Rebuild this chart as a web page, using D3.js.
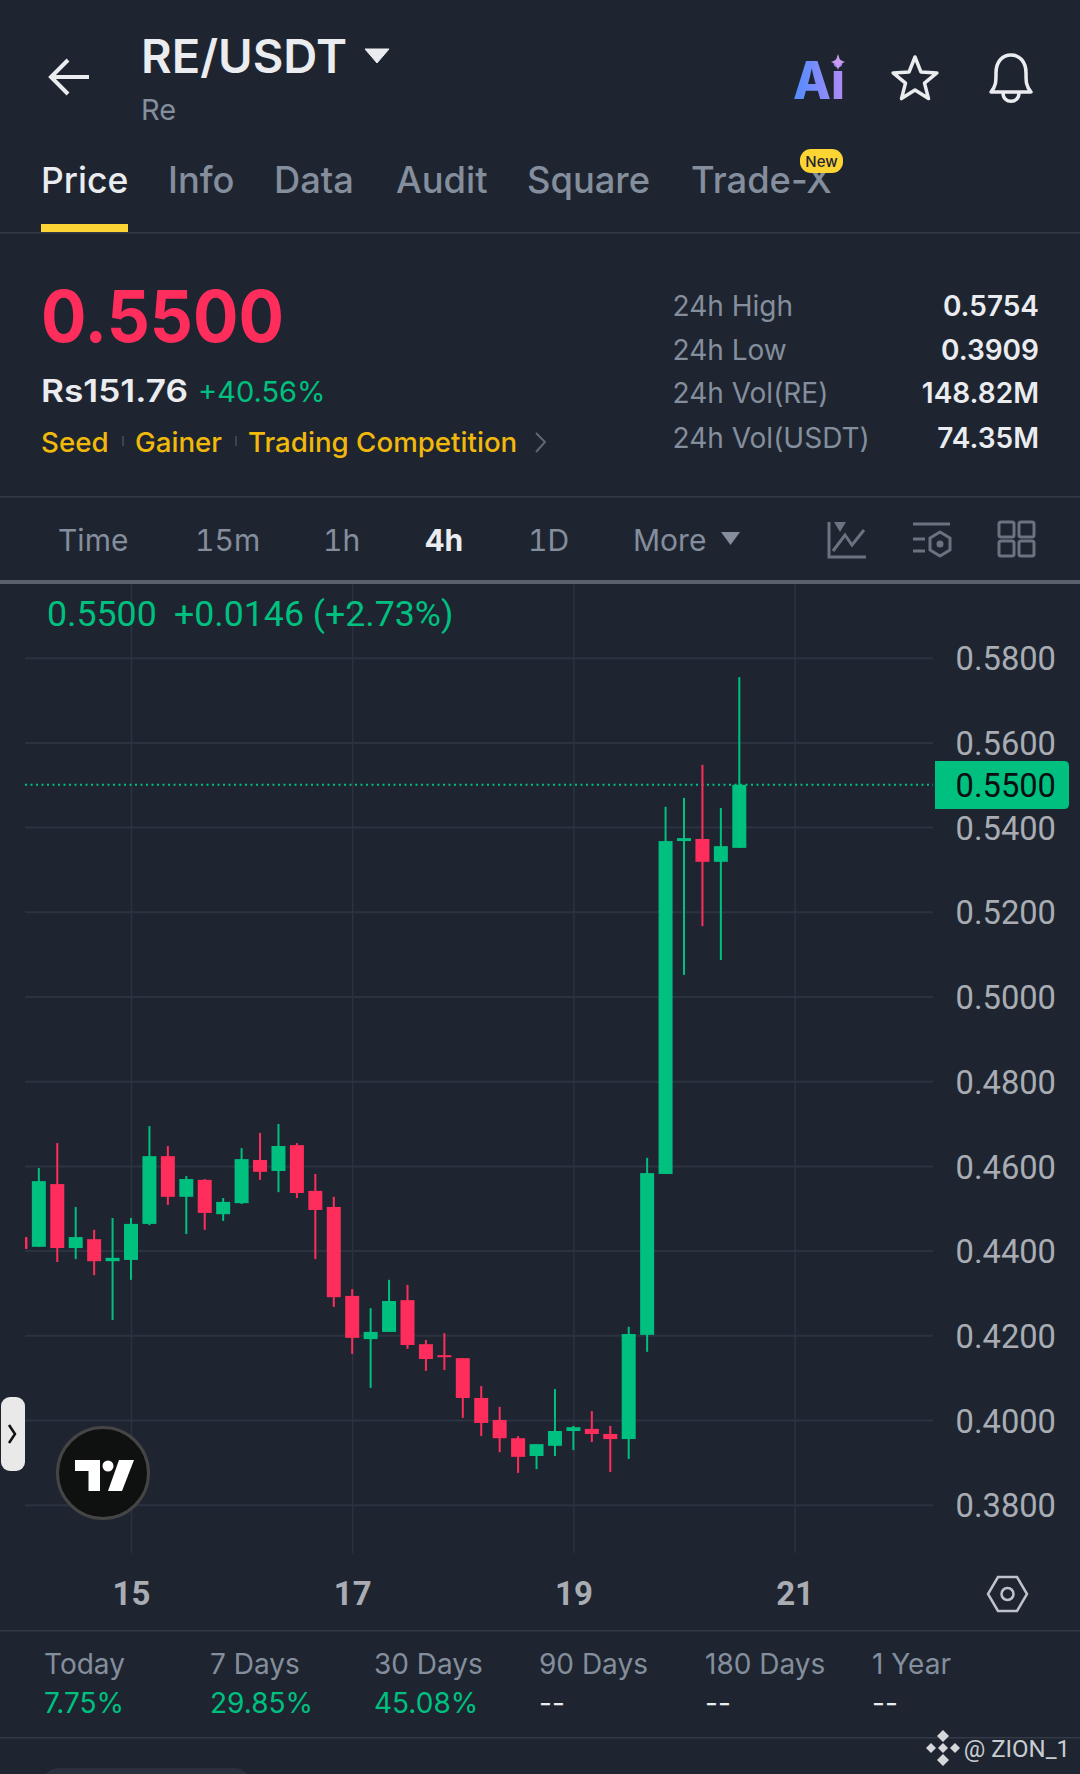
<!DOCTYPE html>
<html>
<head>
<meta charset="utf-8">
<script src="https://cdn.jsdelivr.net/npm/d3@7"></script>
<style>
html, body { margin: 0; padding: 0; background: #1e2531; }
svg { display: block; }
text { font-family: Inter, "Noto Sans", sans-serif; }
.axis text { font-family: Roboto, sans-serif; }
.axis .domain { display: none; }
</style>
</head>
<body>
<script>
var w = 1080;
var h = 1774;

// 4h candles, first one opens on day 14 00:00
var firstDay = 14;
var opens  = [.4432,.4409,.4557,.4406,.4427,.4375,.4378,.4463,.4623,.4527,.4567,.4486,.4512,.4614,.4588,.4649,.4541,.4503,.4293,.4191,.4208,.4283,.4179,.4153,.4146,.4052,.4000,.3957,.3915,.3939,.3974,.3979,.3967,.3955,.4201,.4581,.5367,.5372,.5318,.5351];
var closes = [.4404,.4564,.4406,.4432,.4375,.4383,.4463,.4623,.4527,.4569,.4489,.4515,.4616,.4586,.4647,.4536,.4496,.4290,.4194,.4208,.4281,.4177,.4144,.4149,.4052,.3993,.3957,.3913,.3943,.3974,.3983,.3967,.3955,.4203,.4583,.5367,.5374,.5318,.5355,.5500];
var highs  = [.4432,.4595,.4654,.4503,.4449,.4477,.4477,.4694,.4647,.4576,.4569,.4524,.4642,.4678,.4699,.4654,.4581,.4527,.4309,.4264,.4331,.4319,.4189,.4205,.4146,.4080,.4031,.3962,.3943,.4073,.3986,.4021,.3986,.4220,.4619,.5448,.5469,.5547,.5445,.5754];
var lows   = [.4404,.4409,.4373,.4380,.4342,.4236,.4331,.4460,.4508,.4439,.4449,.4470,.4510,.4567,.4538,.4524,.4380,.4267,.4156,.4076,.4208,.4168,.4116,.4118,.4005,.3962,.3924,.3875,.3884,.3915,.3929,.3948,.3877,.3908,.4161,.4581,.5051,.5166,.5086,.5351];

var priceTicks = [.58,.56,.54,.52,.50,.48,.46,.44,.42,.40,.38];
var dayTicks = [15,17,19,21];
var lastPrice = 0.55;

var tabNames = ["Price","Info","Data","Audit","Square","Trade-X"];
var intervalNames = ["Time","15m","1h","4h","1D","More"];
var tagNames = ["Seed","Gainer","Trading Competition"];
var statLabels = ["24h High","24h Low","24h Vol(RE)","24h Vol(USDT)"];
var statValues = ["0.5754","0.3909","148.82M","74.35M"];
var perfLabels = ["Today","7 Days","30 Days","90 Days","180 Days","1 Year"];
var perfValues = ["7.75%","29.85%","45.08%","--","--","--"];

var green = "#00c07f";
var red = "#ff2d5c";
var greyText = "#848e9c";
var line = "#333a47";
var gridCol = "#2c3340";

var svg = d3.select("body").append("svg")
  .attr("width", w)
  .attr("height", h);

svg.append("rect").attr("width", w).attr("height", h).attr("fill", "#1e2531");

function label(s, x, y, size, fill, weight, anchor) {
  return svg.append("text")
    .text(s)
    .attr("x", x)
    .attr("y", y)
    .attr("font-size", size)
    .attr("fill", fill)
    .attr("font-weight", weight || 400)
    .attr("text-anchor", anchor || "start");
}

function hline(y, col, sw) {
  svg.append("rect").attr("x", 0).attr("y", y).attr("width", w).attr("height", sw || 1.5).attr("fill", col || line);
}

// header
svg.append("path")
  .attr("d", "M89 77H52M68 60L51 77L68 94")
  .attr("fill", "none").attr("stroke", "#eaecef").attr("stroke-width", 4);
label("RE/USDT", 141, 73, 46, "#eaecef", 600).attr("textLength", 206).attr("lengthAdjust", "spacingAndGlyphs");
svg.append("path").attr("d", "M365 49H389L377 63Z").attr("fill", "#eaecef").attr("stroke", "#eaecef").attr("stroke-width", 1).attr("stroke-linejoin", "round");
label("Re", 141, 120, 29, greyText);

var aiGrad = svg.append("defs").append("linearGradient").attr("id", "aiGrad").attr("x1", 0).attr("x2", 1).attr("y1", 0).attr("y2", 0);
aiGrad.append("stop").attr("offset", "0%").attr("stop-color", "#4f8cff");
aiGrad.append("stop").attr("offset", "100%").attr("stop-color", "#b08bf5");
label("Ai", 793, 99, 52, "url(#aiGrad)", 800).attr("textLength", 52).attr("lengthAdjust", "spacingAndGlyphs");
svg.append("path").attr("d", "M838 54L840 60L845 62L840 64L838 70L836 64L831 62L836 60Z").attr("fill", "#c99cf2");
svg.append("path")
  .attr("d", d3.range(10).map(function(i) {
    var r = i % 2 ? 10 : 23;
    var a = -Math.PI / 2 + i * Math.PI / 5;
    return (i ? "L" : "M") + (915 + r * Math.cos(a)).toFixed(1) + " " + (80 + r * Math.sin(a)).toFixed(1);
  }).join("") + "Z")
  .attr("fill", "none").attr("stroke", "#eaecef").attr("stroke-width", 3.5).attr("stroke-linejoin", "round");
svg.append("path")
  .attr("d", "M991 92C996 86 996 82 996 73C996 61 1003 55 1011 55C1019 55 1026 61 1026 73C1026 82 1026 86 1031 92Z M1003 93C1003 104 1019 104 1019 93")
  .attr("fill", "none").attr("stroke", "#eaecef").attr("stroke-width", 3.5).attr("stroke-linejoin", "round");

// tabs
var tabX = [41, 168, 274, 396, 527, 691];
tabNames.forEach(function(d, i) {
  label(d, tabX[i], 193, i == 0 ? 35.5 : 36.3, i == 0 ? "#eaecef" : greyText, 500);
});
svg.append("rect").attr("x", 800).attr("y", 149).attr("width", 43).attr("height", 24).attr("rx", 11).attr("fill", "#fcd535");
label("New", 821.5, 167, 15, "#1e2531", 500, "middle");
svg.append("rect").attr("x", 41).attr("y", 224).attr("width", 87).attr("height", 8).attr("fill", "#fcd535");
hline(232);

// price block
label("0.5500", 41, 342, 72, red, 700).attr("textLength", 243).attr("lengthAdjust", "spacingAndGlyphs");
label("Rs151.76", 41, 402, 31, "#eaecef", 600).attr("textLength", 147).attr("lengthAdjust", "spacingAndGlyphs");
label("+40.56%", 198, 402, 29, green, 400);
var tagX = [41, 135, 248];
tagNames.forEach(function(d, i) {
  label(d, tagX[i], 452, 27.7, "#f0b90b", 500);
});
[122, 235].forEach(function(x) {
  svg.append("rect").attr("x", x).attr("y", 436).attr("width", 2).attr("height", 10).attr("fill", "#3d4451");
});
svg.append("path").attr("d", "M536 433L545 442L536 452").attr("fill", "none").attr("stroke", "#5e6673").attr("stroke-width", 2);

var statY = [316, 360, 403, 448];
statLabels.forEach(function(d, i) {
  label(d, 672.5, statY[i], 28, greyText);
  label(statValues[i], 1039, statY[i], 28, "#eaecef", 600, "end");
});
hline(496);

// interval bar
var intX = [58, 195, 323, 425, 528, 633];
intervalNames.forEach(function(d, i) {
  label(d, intX[i], 551, 30, i == 3 ? "#eaecef" : greyText, i == 3 ? 700 : 400)
    .style("font-variant-numeric", "tabular-nums");
});
svg.append("path").attr("d", "M721 532H740L730.5 545Z").attr("fill", greyText);
svg.append("path")
  .attr("d", "M829 522V557H866M833 551L845 535L852 545L864 530")
  .attr("fill", "none").attr("stroke", "#6b7280").attr("stroke-width", 3);
svg.append("path").attr("d", "M834 522H846L840 532Z").attr("fill", "#6b7280");
svg.append("path")
  .attr("d", "M913 524H950M913 539H925M913 551H925M940 532L950 538V550L940 556L930 550V538Z")
  .attr("fill", "none").attr("stroke", "#6b7280").attr("stroke-width", 3);
svg.append("circle").attr("cx", 940).attr("cy", 544).attr("r", 3.5).attr("fill", "#6b7280");
[[999, 522], [1019, 522], [999, 541], [1019, 541]].forEach(function(p) {
  svg.append("rect").attr("x", p[0]).attr("y", p[1]).attr("width", 15).attr("height", 15).attr("rx", 2)
    .attr("fill", "none").attr("stroke", "#6b7280").attr("stroke-width", 3);
});

// chart
var x = d3.scaleLinear().domain([15, 21]).range([131, 794.6]);
var y = d3.scaleLinear().domain([0.38, 0.58]).range([1504.7, 657.7]);

var xAxis = d3.axisBottom(x).tickValues(dayTicks).tickSize(-971).tickPadding(29).tickFormat(d3.format("d"));
var yAxis = d3.axisRight(y).tickValues(priceTicks).tickSize(-908).tickFormat(d3.format(".4f"));

var gx = svg.append("g").attr("class", "axis").attr("transform", "translate(0,1553)").call(xAxis);
gx.selectAll("line").attr("stroke", gridCol).attr("stroke-width", 1.5);
gx.selectAll("text").attr("font-size", 33).attr("font-weight", 700).attr("fill", "#a9adb3");

var gy = svg.append("g").attr("class", "axis").attr("transform", "translate(933,0)").call(yAxis);
gy.selectAll("line").attr("stroke", gridCol).attr("stroke-width", 2);
gy.selectAll("text").attr("font-size", 32.7).attr("fill", "#a9adb3").attr("text-anchor", "end").attr("x", 123).attr("dy", "0.37em");

hline(580, "#5a606c", 4);

label("0.5500", 47, 626, 35.7, green).style("font-family", "Roboto, sans-serif");
label("+0.0146 (+2.73%)", 174, 626, 35.7, green).style("font-family", "Roboto, sans-serif");

svg.append("line")
  .attr("x1", 25).attr("x2", 933).attr("y1", y(lastPrice)).attr("y2", y(lastPrice))
  .attr("stroke", green).attr("stroke-width", 2).attr("stroke-dasharray", "2 3.5");

svg.append("clipPath").attr("id", "plot").append("rect").attr("x", 25).attr("y", 582).attr("width", 908).attr("height", 971);

var bodyW = 14;
var candles = svg.append("g").attr("clip-path", "url(#plot)");
var groups = candles.selectAll("g")
  .data(opens)
  .enter()
  .append("g")
  .attr("fill", function(d, i) { return closes[i] >= d ? green : red; });

function candleX(i) { return x(firstDay + i / 6); }

groups.append("rect")
  .attr("x", function(d, i) { return candleX(i) - 1; })
  .attr("width", 2)
  .attr("y", function(d, i) { return y(highs[i]); })
  .attr("height", function(d, i) { return y(lows[i]) - y(highs[i]); });

groups.append("rect")
  .attr("x", function(d, i) { return candleX(i) - bodyW / 2; })
  .attr("width", bodyW)
  .attr("y", function(d, i) { return y(Math.max(d, closes[i])); })
  .attr("height", function(d, i) { return Math.max(Math.abs(y(d) - y(closes[i])), 2); });

// last price tag
svg.append("path").attr("d", "M935 761H1064Q1069 761 1069 766V804Q1069 809 1064 809H935Z").attr("fill", green);
label(d3.format(".4f")(lastPrice), 1056, y(lastPrice) + 12, 32.7, "#0b0e11", 400, "end").style("font-family", "Roboto, sans-serif");

// side handle
svg.append("rect").attr("x", 1).attr("y", 1397).attr("width", 24).attr("height", 74).attr("rx", 9).attr("fill", "#e9e9e9");
svg.append("path").attr("d", "M9 1425L15 1434L9 1443").attr("fill", "none").attr("stroke", "#111").attr("stroke-width", 2.5);

// tradingview logo
svg.append("circle").attr("cx", 103).attr("cy", 1473).attr("r", 45.5).attr("fill", "#0f1110").attr("stroke", "#454545").attr("stroke-width", 3);
svg.append("path").attr("d", "M75 1460H100V1491H88.500V1471H75Z").attr("fill", "#fff");
svg.append("circle").attr("cx", 108).attr("cy", 1466).attr("r", 5.5).attr("fill", "#fff");
svg.append("path").attr("d", "M119 1460H134L122 1491H108Z").attr("fill", "#fff");

// gear
svg.append("path").attr("d", "M998 1577H1017L1027 1594L1017 1611H998L988 1594Z").attr("fill", "none").attr("stroke", "#bfc3c9").attr("stroke-width", 2.5);
svg.append("circle").attr("cx", 1007.500).attr("cy", 1594).attr("r", 6).attr("fill", "none").attr("stroke", "#bfc3c9").attr("stroke-width", 2.5);

hline(1630);

// performance row
var perfX = [44, 210, 374, 539, 705, 872];
perfLabels.forEach(function(d, i) {
  label(d, perfX[i], 1674, 28, greyText);
  var v = perfValues[i];
  label(v, perfX[i], 1713, 28, v == "--" ? "#eaecef" : green);
});
hline(1737);

// watermark and bottom pill
svg.append("rect").attr("x", 45).attr("y", 1768).attr("width", 203).attr("height", 20).attr("rx", 14).attr("fill", "#2a313e");
[[943, 1736, 6], [943, 1760, 6], [931, 1748, 5], [955, 1748, 5], [943, 1748, 5]].forEach(function(p) {
  svg.append("path")
    .attr("d", "M" + p[0] + " " + (p[1] - p[2]) + "L" + (p[0] + p[2]) + " " + p[1] + "L" + p[0] + " " + (p[1] + p[2]) + "L" + (p[0] - p[2]) + " " + p[1] + "Z")
    .attr("fill", "#d5d7da");
});
label("@ ZION_1", 1070, 1757, 24, "#c9ccd1", 400, "end").style("font-family", "Roboto, sans-serif");
</script>
</body>
</html>
